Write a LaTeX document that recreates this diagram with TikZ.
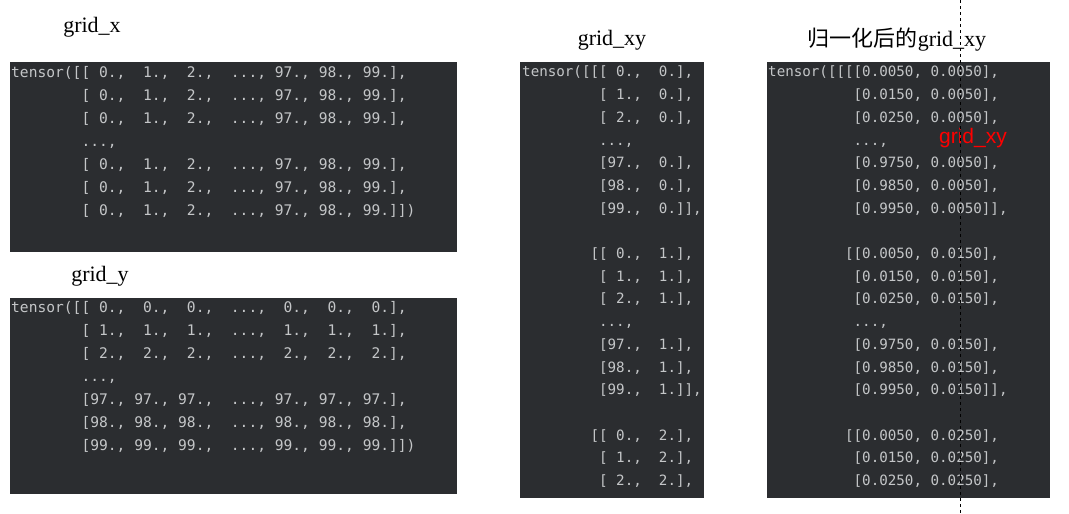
\documentclass[tikz,border=0pt]{standalone}
\usepackage{fontspec}
\setmainfont{Liberation Serif}
\setmonofont{DejaVu Sans Mono}
\newfontfamily\cjk{Noto Sans CJK SC}
\newfontfamily\redsans{Liberation Sans}
\definecolor{panelbg}{RGB}{43,45,48}
\definecolor{codefg}{RGB}{196,198,200}
\begin{document}
\begin{tikzpicture}[x=1pt,y=-1pt,
  panel/.style={fill=panelbg,draw=none},
  code/.style={anchor=north west,align=left,inner sep=0pt,text=codefg,font=\ttfamily\fontsize{14.6}{23}\selectfont},
  codexy/.style={code,font=\ttfamily\fontsize{14.2}{22.7}\selectfont},
  title/.style={font=\fontsize{22}{24}\selectfont}]
\useasboundingbox (0,0) rectangle (1069,514);
\fill[panel] (10,62) rectangle (457,252);
\fill[panel] (10,298) rectangle (457,494);
\fill[panel] (520,62) rectangle (704,498);
\fill[panel] (767,62) rectangle (1050,498);
\node[title] (tx) at (92,27) {grid\_x};
\node[title] (ty) at (100,276) {grid\_y};
\node[title] (txy) at (612,40) {grid\_xy};
\node[title] (tn) at (897,40) {{\cjk 归一化后的}grid\_xy};
\node[code] (cx) at (11,66) {tensor([[~0.,~~1.,~~2.,~~...,~97.,~98.,~99.],\\
~~~~~~~~[~0.,~~1.,~~2.,~~...,~97.,~98.,~99.],\\
~~~~~~~~[~0.,~~1.,~~2.,~~...,~97.,~98.,~99.],\\
~~~~~~~~...,\\
~~~~~~~~[~0.,~~1.,~~2.,~~...,~97.,~98.,~99.],\\
~~~~~~~~[~0.,~~1.,~~2.,~~...,~97.,~98.,~99.],\\
~~~~~~~~[~0.,~~1.,~~2.,~~...,~97.,~98.,~99.]])};
\node[code] (cy) at (11,301) {tensor([[~0.,~~0.,~~0.,~~...,~~0.,~~0.,~~0.],\\
~~~~~~~~[~1.,~~1.,~~1.,~~...,~~1.,~~1.,~~1.],\\
~~~~~~~~[~2.,~~2.,~~2.,~~...,~~2.,~~2.,~~2.],\\
~~~~~~~~...,\\
~~~~~~~~[97.,~97.,~97.,~~...,~97.,~97.,~97.],\\
~~~~~~~~[98.,~98.,~98.,~~...,~98.,~98.,~98.],\\
~~~~~~~~[99.,~99.,~99.,~~...,~99.,~99.,~99.]])};
\node[codexy] (cxy) at (522,66) {tensor([[[~0.,~~0.],\\
~~~~~~~~~[~1.,~~0.],\\
~~~~~~~~~[~2.,~~0.],\\
~~~~~~~~~...,\\
~~~~~~~~~[97.,~~0.],\\
~~~~~~~~~[98.,~~0.],\\
~~~~~~~~~[99.,~~0.]],\\
~\\
~~~~~~~~[[~0.,~~1.],\\
~~~~~~~~~[~1.,~~1.],\\
~~~~~~~~~[~2.,~~1.],\\
~~~~~~~~~...,\\
~~~~~~~~~[97.,~~1.],\\
~~~~~~~~~[98.,~~1.],\\
~~~~~~~~~[99.,~~1.]],\\
~\\
~~~~~~~~[[~0.,~~2.],\\
~~~~~~~~~[~1.,~~2.],\\
~~~~~~~~~[~2.,~~2.],};
\node[codexy] (cn) at (768,66) {tensor([[[[0.0050,~0.0050],\\
~~~~~~~~~~[0.0150,~0.0050],\\
~~~~~~~~~~[0.0250,~0.0050],\\
~~~~~~~~~~...,\\
~~~~~~~~~~[0.9750,~0.0050],\\
~~~~~~~~~~[0.9850,~0.0050],\\
~~~~~~~~~~[0.9950,~0.0050]],\\
~\\
~~~~~~~~~[[0.0050,~0.0150],\\
~~~~~~~~~~[0.0150,~0.0150],\\
~~~~~~~~~~[0.0250,~0.0150],\\
~~~~~~~~~~...,\\
~~~~~~~~~~[0.9750,~0.0150],\\
~~~~~~~~~~[0.9850,~0.0150],\\
~~~~~~~~~~[0.9950,~0.0150]],\\
~\\
~~~~~~~~~[[0.0050,~0.0250],\\
~~~~~~~~~~[0.0150,~0.0250],\\
~~~~~~~~~~[0.0250,~0.0250],};
\node[text=red,font=\redsans\fontsize{21}{23}\selectfont] (lbl) at (973,138) {grid\_xy};
\coordinate (dtop) at (960,0);
\coordinate (dbot) at (960,514);
\draw[dashed,black,line width=0.6pt] (dtop) -- (dbot);
\end{tikzpicture}
\end{document}
